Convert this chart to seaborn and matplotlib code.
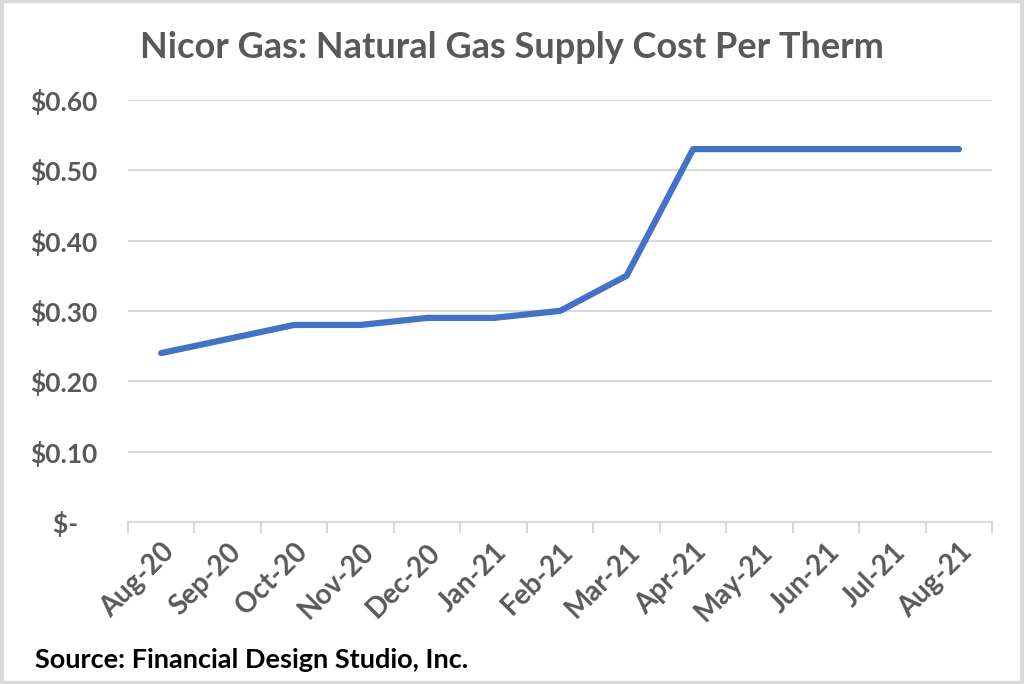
import numpy as np
import pandas as pd
import matplotlib
matplotlib.use("Agg")
import matplotlib.pyplot as plt
import seaborn as sns
from matplotlib.ticker import FuncFormatter, FixedLocator, NullFormatter

months = ["Aug-20", "Sep-20", "Oct-20", "Nov-20", "Dec-20", "Jan-21", "Feb-21",
          "Mar-21", "Apr-21", "May-21", "Jun-21", "Jul-21", "Aug-21"]
cost = [0.24, 0.26, 0.28, 0.28, 0.29, 0.29, 0.30, 0.35, 0.53, 0.53, 0.53, 0.53, 0.53]

df = pd.DataFrame({"month": months, "cost": cost})

sns.set_style("white")
plt.rcParams["font.family"] = ["Lato", "DejaVu Sans"]

fig = plt.figure(figsize=(10.24, 6.84), dpi=100)
ax = fig.add_axes([0.125, 0.237, 0.844, 0.617])

sns.lineplot(data=df, x="month", y="cost", ax=ax, color="#4472C4", linewidth=4.5,
             sort=False, solid_capstyle="round")

ax.set_xlim(-0.5, len(months) - 0.5)
ax.set_ylim(0, 0.6)
ax.set_yticks(np.arange(0, 0.61, 0.1))
# accounting style: zero shown as "$-" with trailing padding
ax.yaxis.set_major_formatter(FuncFormatter(lambda v, p: "$-   " if abs(v) < 1e-9 else f"${v:.2f}"))
ax.grid(axis="y", color="#d9d9d9", linewidth=1.5)
ax.set_axisbelow(True)

# ticks between categories
ax.xaxis.set_minor_locator(FixedLocator(np.arange(-0.5, len(months), 1.0)))
ax.xaxis.set_minor_formatter(NullFormatter())
ax.tick_params(axis="x", which="minor", length=8, width=1.5, color="#d9d9d9", bottom=True)
ax.tick_params(axis="x", which="major", length=0, pad=12)
ax.tick_params(axis="y", length=0, pad=22)
plt.setp(ax.get_xticklabels(), rotation=45, ha="right", rotation_mode="anchor",
         fontsize=20, color="#595959", fontweight="bold")
plt.setp(ax.get_yticklabels(), fontsize=19, color="#595959", fontweight="bold")

for s in ["left", "right", "top"]:
    ax.spines[s].set_visible(False)
ax.spines["bottom"].set_color("#d9d9d9")
ax.spines["bottom"].set_linewidth(1.5)
ax.set_xlabel("")
ax.set_ylabel("")

fig.text(0.5, 0.931, "Nicor Gas: Natural Gas Supply Cost Per Therm", ha="center", va="center",
         fontsize=26, color="#595959", fontweight="bold")
fig.text(0.034, 0.035, "Source: Financial Design Studio, Inc.", ha="left", va="center",
         fontsize=19.5, color="black", fontweight="bold")

fig.patches.append(plt.Rectangle((0.0015, 0.002), 0.997, 0.996, transform=fig.transFigure,
                                 fill=False, edgecolor="#d9d9d9", linewidth=3))

fig.savefig("out.png", dpi=100)
